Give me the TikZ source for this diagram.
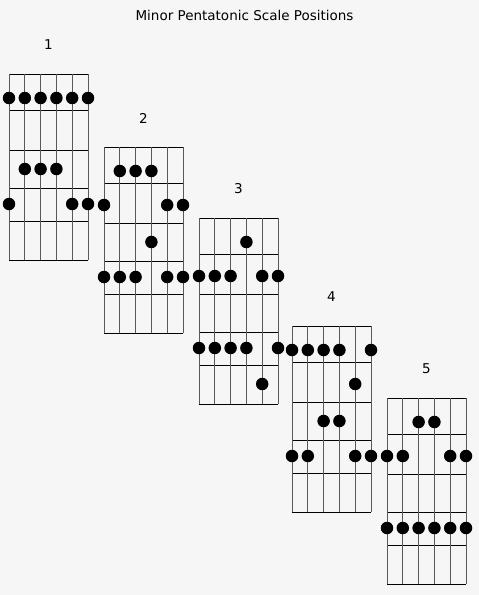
\documentclass[tikz,border=0pt]{standalone}
\usepackage{fontspec}
\setmainfont{DejaVu Sans}
\usepackage{xcolor}
\definecolor{mypaper}{gray}{0.965}
\definecolor{mystring}{gray}{0.35}
\tikzset{
  fretline/.style={black, line width=0.9pt},
  stringline/.style={mystring, line width=0.9pt},
  notedot/.style={circle, fill=black, inner sep=0pt, minimum size=12.5pt},
  posnum/.style={font=\fontsize{13.5}{16}\selectfont},
}
% #1 name, #2 left, #3 top, #4 fret/string list
\newcommand{\drawneck}[4]{%
  \begin{scope}[shift={(#2,#3)}]
    \foreach \f in {0,36,76,114,147,186}
      \draw[fretline] (0,\f) -- (79,\f);
    \foreach \s in {0,...,5}
      \draw[stringline] (\s*15.8,0) -- (\s*15.8,186);
    \node[posnum] (#1-num) at (39.5,-29) {#1};
    \foreach \f/\s in {#4} {
      \pgfmathsetmacro{\dy}{{24,58,95,130,166}[\f-1]}
      \node[notedot] (#1-f\f-s\s) at ({(\s-1)*15.8},\dy) {};
    }
  \end{scope}}

\begin{document}
\begin{tikzpicture}[x=1pt,y=-1pt]
\fill[mypaper] (0,0) rectangle (479,595);
\useasboundingbox (0,0) rectangle (479,595);
\node[posnum] (title) at (244.5,15.5) {Minor Pentatonic Scale Positions};
\drawneck{1}{9}{74}{1/1,1/2,1/3,1/4,1/5,1/6,3/2,3/3,3/4,4/1,4/5,4/6}
\drawneck{2}{104}{147}{1/2,1/3,1/4,2/1,2/5,2/6,3/4,4/1,4/2,4/3,4/5,4/6}
\drawneck{3}{199}{218}{1/4,2/1,2/2,2/3,2/5,2/6,4/1,4/2,4/3,4/4,4/6,5/5}
\drawneck{4}{292}{326}{1/1,1/2,1/3,1/4,1/6,2/5,3/3,3/4,4/1,4/2,4/5,4/6}
\drawneck{5}{387}{398}{1/3,1/4,2/1,2/2,2/5,2/6,4/1,4/2,4/3,4/4,4/5,4/6}
\end{tikzpicture}
\end{document}
